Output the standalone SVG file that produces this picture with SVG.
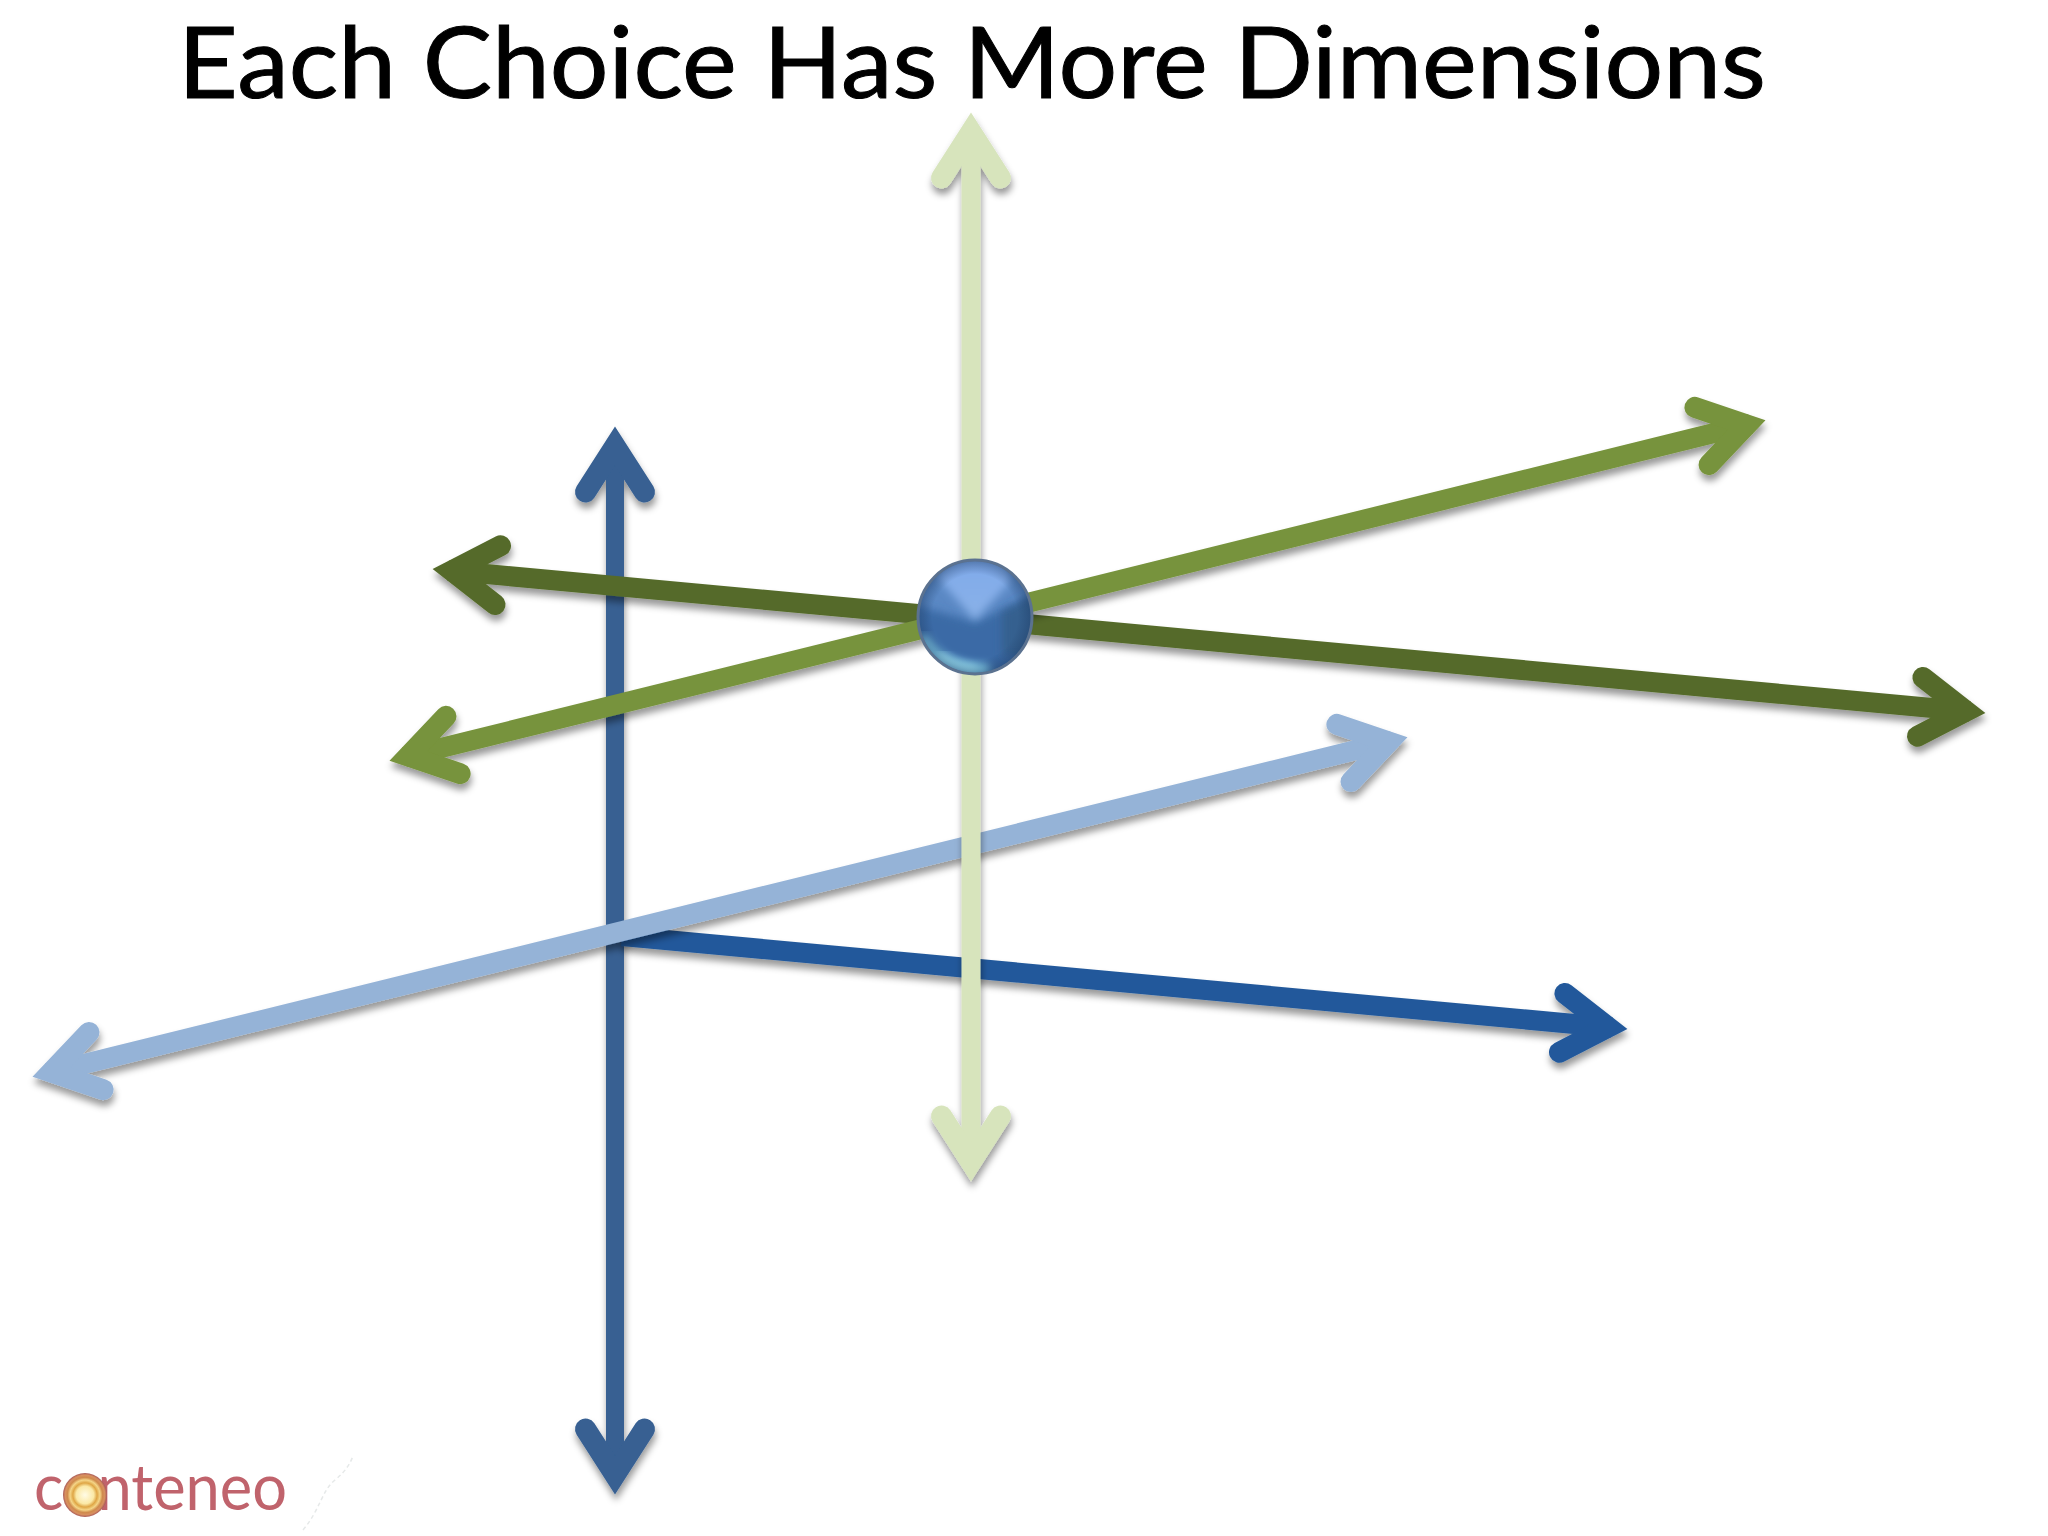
<svg xmlns="http://www.w3.org/2000/svg" width="2048" height="1536" viewBox="0 0 2048 1536">
<style>
.title{font-family:"Lato","Noto Sans",sans-serif;font-size:99px;fill:#000;stroke:#000;stroke-width:1}
.logo{font-family:"Lato","Noto Sans",sans-serif;font-weight:400;font-size:64px;fill:#c0636c}
.a{fill:none}
.h{fill:none;stroke-width:21;stroke-linecap:round;stroke-linejoin:miter;stroke-miterlimit:10}
.sh{filter:url(#shadow)}
</style>
<defs>
<filter id="shadow" x="0" y="0" width="2048" height="1536" filterUnits="userSpaceOnUse" primitiveUnits="userSpaceOnUse">
<feDropShadow dx="1" dy="6" stdDeviation="3.5" flood-color="#000" flood-opacity="0.4"/>
</filter>
<filter id="soft" x="-30%" y="-30%" width="160%" height="160%"><feGaussianBlur stdDeviation="4"/></filter>
<marker id="mDB" markerUnits="userSpaceOnUse" markerWidth="160" markerHeight="160" viewBox="-120 -80 160 160" refX="0" refY="0" orient="auto-start-reverse"><path class="h" stroke="#376092" d="M-50,-29.5L-4,0L-50,29.5"/></marker>
<marker id="mDG" markerUnits="userSpaceOnUse" markerWidth="160" markerHeight="160" viewBox="-120 -80 160 160" refX="0" refY="0" orient="auto-start-reverse"><path class="h" stroke="#556b2a" d="M-50,-29.5L-4,0L-50,29.5"/></marker>
<marker id="mG" markerUnits="userSpaceOnUse" markerWidth="160" markerHeight="160" viewBox="-120 -80 160 160" refX="0" refY="0" orient="auto-start-reverse"><path class="h" stroke="#77933c" d="M-50,-29.5L-4,0L-50,29.5"/></marker>
<marker id="mB" markerUnits="userSpaceOnUse" markerWidth="160" markerHeight="160" viewBox="-120 -80 160 160" refX="0" refY="0" orient="auto-start-reverse"><path class="h" stroke="#22599b" d="M-50,-29.5L-4,0L-50,29.5"/></marker>
<marker id="mLB" markerUnits="userSpaceOnUse" markerWidth="160" markerHeight="160" viewBox="-120 -80 160 160" refX="0" refY="0" orient="auto-start-reverse"><path class="h" stroke="#95b3d7" d="M-50,-29.5L-4,0L-50,29.5"/></marker>
<marker id="mP" markerUnits="userSpaceOnUse" markerWidth="160" markerHeight="160" viewBox="-120 -80 160 160" refX="0" refY="0" orient="auto-start-reverse"><path class="h" stroke="#d7e4bc" d="M-50,-29.5L-4,0L-50,29.5"/></marker>
<linearGradient id="wedge" x1="0.5" y1="0" x2="0.5" y2="1">
<stop offset="0" stop-color="#7fa9ea"/><stop offset="1" stop-color="#8ab2e8"/>
</linearGradient>
<radialGradient id="ballEdge" cx="0.5" cy="0.5" r="0.5">
<stop offset="0.75" stop-color="#1d3b63" stop-opacity="0"/><stop offset="1" stop-color="#1d3b63" stop-opacity="0.45"/>
</radialGradient>
<radialGradient id="sun" cx="0.5" cy="0.5" r="0.5">
<stop offset="0" stop-color="#fffbe6"/><stop offset="0.4" stop-color="#fbe9a6"/><stop offset="0.55" stop-color="#dfa645"/><stop offset="0.68" stop-color="#f4d587"/><stop offset="0.8" stop-color="#cf8a4c"/><stop offset="0.9" stop-color="#d89060"/><stop offset="1" stop-color="#a85a58"/>
</radialGradient>
<clipPath id="ballClip"><circle cx="975" cy="617" r="56"/></clipPath>
</defs>
<rect width="2048" height="1536" fill="#fff"/>
<g id="title"><text class="title" x="178" y="98" textLength="1588" lengthAdjust="spacingAndGlyphs">Each Choice Has More Dimensions</text></g>
<g id="connectors">
<path class="a sh" stroke="#376092" stroke-width="18" d="M615,442V1479" marker-start="url(#mDB)" marker-end="url(#mDB)"/>
<path class="a sh" stroke="#556b2a" stroke-width="20" d="M448,570.5L1970,711.5" marker-start="url(#mDG)" marker-end="url(#mDG)"/>
<path class="a sh" stroke="#77933c" stroke-width="20" d="M404.5,757L1750.5,424" marker-start="url(#mG)" marker-end="url(#mG)"/>
<path class="a sh" stroke="#22599b" stroke-width="20" d="M622,936L1612,1027.5" marker-end="url(#mB)"/>
<path class="a sh" stroke="#95b3d7" stroke-width="20" d="M47.5,1073L1392.5,741" marker-start="url(#mLB)" marker-end="url(#mLB)"/>
<path class="a sh" stroke="#d7e4bc" stroke-width="19" d="M971,128V1166" marker-start="url(#mP)" marker-end="url(#mP)"/>
</g>
<g id="ball">
<circle cx="975" cy="617" r="57" fill="#5a88c4"/>
<g clip-path="url(#ballClip)">
<path d="M915,605L975,622L1035,595L1035,690L915,690Z" fill="#3a6ba6" filter="url(#soft)"/>
<path d="M975,620L935,575L955,555L1005,555L1012,580Z" fill="url(#wedge)" filter="url(#soft)"/>
<path d="M1002,612L1040,592L1040,655L1002,655Z" fill="#35608f" filter="url(#soft)"/>
<path d="M923,640C935,660 955,670 985,670" fill="none" stroke="#8fe0f8" stroke-width="11" stroke-linecap="round" filter="url(#soft)"/>
<path d="M940,656C950,664 962,668 975,670" fill="none" stroke="#a8ecfb" stroke-width="7" stroke-linecap="round" filter="url(#soft)"/>
</g>
<circle cx="975" cy="617" r="57" fill="url(#ballEdge)" stroke="#5b7290" stroke-width="3"/>
</g>
<g id="logo">
<text class="logo" x="34" y="1510" textLength="253" lengthAdjust="spacingAndGlyphs">conteneo</text>
<circle cx="85" cy="1495" r="22" fill="url(#sun)"/>
<path d="M303,1530C320,1510 322,1490 335,1480C345,1472 350,1464 353,1456" fill="none" stroke="#e6e9e9" stroke-width="1.5" stroke-dasharray="4 3"/>
</g>
</svg>
